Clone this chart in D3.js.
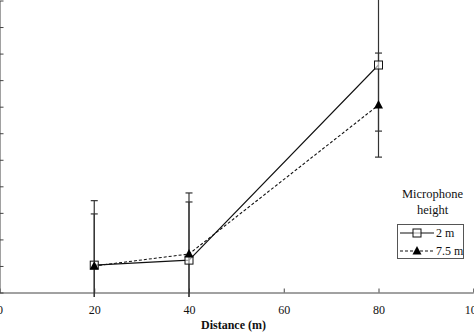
<!DOCTYPE html>
<html><head><meta charset="utf-8">
<script src="https://cdn.jsdelivr.net/npm/d3@7"></script>
<style>body{margin:0;background:#fff}svg{display:block}text{font-family:"Liberation Serif","Times New Roman",serif;fill:#111}</style>
</head><body><svg id="c" width="474" height="332"></svg>
<script>
const distances = [20, 40, 80];
const xTicks = [0, 20, 40, 60, 80, 100];
const yTicks = [0,1,2,3,4,5,6,7,8,9,10,11];
const seriesNames = ["2 m", "7.5 m"];
const h2 = [1.03, 1.22, 8.57];
const h2Err = [1.93, 2.19, 2.49];
const h75 = [1.0, 1.45, 7.06];
const h75Err = [2.46, 2.30, 1.96];
const legendTitle = ["Microphone", "height"];
const xTitle = "Distance (m)";

const svg = d3.select("#c");
const x = d3.scaleLinear().domain([0, 100]).range([-0.5, 473.25]);
const y = d3.scaleLinear().domain([0, 11]).range([292.5, 0.5]);

svg.append("defs").append("clipPath").attr("id","clip")
  .append("rect").attr("x",-5).attr("y",-5).attr("width",490).attr("height",302);

// axes
const xa = svg.append("g").attr("transform",`translate(0,${y(0)})`)
  .call(d3.axisBottom(x).tickValues(xTicks).tickSizeInner(-4).tickSizeOuter(0).tickPadding(13));
xa.select(".domain").attr("stroke","#444");
xa.selectAll(".tick line").attr("stroke","#444");
xa.selectAll("text").attr("font-size","12px").attr("font-family","Liberation Serif").attr("fill","#111");

const ya = svg.append("g").attr("transform",`translate(${x(0)},0)`)
  .call(d3.axisLeft(y).tickValues(yTicks).tickSizeInner(-4).tickSizeOuter(0).tickFormat(""));
ya.select(".domain").attr("stroke","#444");
ya.selectAll(".tick line").attr("stroke","#444");

svg.append("text").attr("x",233.5).attr("y",329).attr("text-anchor","middle")
  .attr("font-size","12px").attr("font-weight","bold").text(xTitle);

const series = [
  {name: seriesNames[0], vals: h2, err: h2Err, dash: null, marker: "square"},
  {name: seriesNames[1], vals: h75, err: h75Err, dash: "3,2", marker: "tri"}
];

// error bars
const eg = svg.append("g").attr("clip-path","url(#clip)");
series.forEach(s => {
  distances.forEach((d,i) => {
    const cx = x(d), lo = y(s.vals[i]-s.err[i]), hi = y(s.vals[i]+s.err[i]);
    eg.append("line").attr("x1",cx).attr("x2",cx).attr("y1",lo).attr("y2",hi)
      .attr("stroke","#333").attr("stroke-width",1.2);
    [lo, hi].forEach(yy => eg.append("line").attr("x1",cx-3.5).attr("x2",cx+3.5)
      .attr("y1",yy).attr("y2",yy).attr("stroke","#333").attr("stroke-width",1.2));
  });
});

const line = d3.line().x((d,i)=>x(distances[i])).y(d=>y(d));
function marker(g, kind, cx, cy){
  if(kind==="square"){
    g.append("rect").attr("x",cx-4).attr("y",cy-4).attr("width",8).attr("height",8)
      .attr("fill","#fff").attr("fill-opacity",0.6).attr("stroke","#111").attr("stroke-width",1);
  } else {
    g.append("path").attr("d",`M${cx},${cy-5}L${cx+4.5},${cy+3.5}L${cx-4.5},${cy+3.5}Z`)
      .attr("fill","#000");
  }
}
series.forEach(s => {
  svg.append("path").datum(s.vals).attr("d",line).attr("fill","none")
    .attr("stroke","#111").attr("stroke-width",1.1).attr("stroke-dasharray",s.dash);
});
series.forEach(s => {
  distances.forEach((d,i)=> marker(svg, s.marker, x(d), y(s.vals[i])));
});

// legend
svg.append("text").attr("x",432.5).attr("y",198).attr("text-anchor","middle").attr("font-size","12.5px").text(legendTitle[0]);
svg.append("text").attr("x",432.5).attr("y",214).attr("text-anchor","middle").attr("font-size","12.5px").text(legendTitle[1]);
svg.append("rect").attr("x",397.5).attr("y",224.5).attr("width",66).attr("height",34)
  .attr("fill","#fff").attr("stroke","#555").attr("stroke-width",1);
series.forEach((s,i) => {
  const ly = 233 + i*18;
  svg.append("line").attr("x1",400).attr("x2",434).attr("y1",ly).attr("y2",ly)
    .attr("stroke","#111").attr("stroke-width",1.1).attr("stroke-dasharray",s.dash);
  marker(svg, s.marker, 417, ly);
  svg.append("text").attr("x",436).attr("y",ly+4).attr("font-size","12px").text(s.name);
});
</script></body></html>
